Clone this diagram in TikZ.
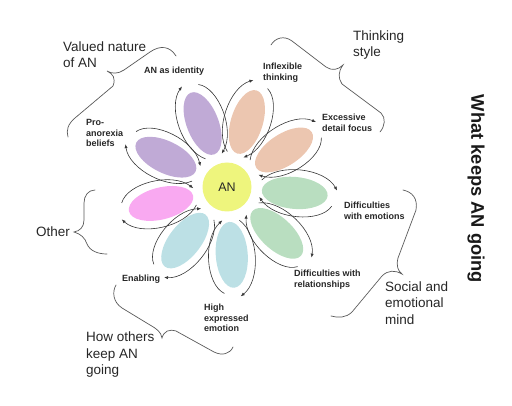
\documentclass[tikz,border=0pt]{standalone}
\usepackage{fontspec}
\setmainfont{Liberation Sans}
\usetikzlibrary{arrows.meta,shapes.geometric}
\definecolor{purp}{RGB}{192,170,214}
\definecolor{peach}{RGB}{236,198,176}
\definecolor{green}{RGB}{185,222,192}
\definecolor{blue}{RGB}{188,224,229}
\definecolor{pink}{RGB}{249,169,241}
\definecolor{yel}{RGB}{238,245,125}
\definecolor{ink}{RGB}{55,55,55}
\begin{document}
\begin{tikzpicture}[x=1pt,y=-1pt,
  cat/.style={font=\fontsize{13.5}{16.5}\selectfont, align=left, inner sep=0pt, anchor=west, text=black!85},
  lab/.style={font=\bfseries\fontsize{9}{10.7}\selectfont, align=left, inner sep=0pt, anchor=west, text=black!85},
  petal/.style={ellipse, minimum width=66pt, minimum height=32pt, inner sep=0pt, transform shape},
  flow/.style={draw=ink, line width=0.6pt, -{Latex[length=4pt,width=3.2pt]}},
  bracepath/.style={draw=black!65, line width=0.7pt, line cap=round}]

\useasboundingbox (0,0) rectangle (512,406);

\foreach \i/\ang/\col in {1/111/purp,2/73/peach,3/33/peach,4/-5/green,5/-43/green,6/-86/blue,7/-128/blue,8/-166/pink,9/154/purp}{
  \begin{scope}[shift={(227,187)},rotate=\ang]
    \node[petal,fill=\col] (p\i) at (68,0) {};
    \coordinate (os\i) at (34,-10);
    \coordinate (oe\i) at (110,-6);
    \coordinate (is\i) at (106,10);
    \coordinate (ie\i) at (33,7);
    \draw[flow] (os\i) .. controls (50,-29) and (96,-27) .. (oe\i);
    \draw[flow] (is\i) .. controls (96,28) and (50,28) .. (ie\i);
  \end{scope}
}

\node[circle, fill=yel, minimum size=49pt, inner sep=0pt, font=\fontsize{12.5}{14}\selectfont, text=black!85] (an) at (227,187) {AN};

% braces
\draw[bracepath] (176,56) .. controls (170,46) and (160,45) .. (150,52) -- (124,70) .. controls (118,74) and (112,74) .. (107,71)
  .. controls (113,74) and (116,78) .. (113,86) -- (75,118) .. controls (68,124) and (66,130) .. (68,137);
\draw[bracepath] (271,45) .. controls (275,38) and (284,35) .. (292,41) -- (326,67) .. controls (332,71) and (338,70) .. (343,65)
  .. controls (338,72) and (338,78) .. (342,84) -- (381,113) .. controls (386,118) and (385,126) .. (380,132);
\draw[bracepath] (403,190) .. controls (412,192) and (418,198) .. (416,210) -- (398,258) .. controls (396,266) and (398,271) .. (402,274)
  .. controls (395,270) and (388,270) .. (382,276) -- (352,312) .. controls (346,318) and (338,318) .. (331,316);
\draw[bracepath] (95,190) .. controls (88,190) and (84,196) .. (84,203) -- (84,220) .. controls (84,227) and (80,231) .. (74,232)
  .. controls (81,234) and (85,238) .. (87,244) .. controls (90,251) and (98,254) .. (107,254);
\draw[bracepath] (116,285) .. controls (112,292) and (113,302) .. (122,308) -- (150,325) .. controls (157,329) and (161,332) .. (162,338)
  .. controls (164,331) and (169,329) .. (176,331) -- (214,352) .. controls (222,356) and (230,354) .. (233,347);

% category labels
\node[cat] (valued) at (63,54.5) {Valued nature\\of AN};
\node[cat] (thinking) at (353,45) {Thinking\\style};
\node[cat] (social) at (385,303) {Social and\\emotional\\mind};
\node[cat] (other) at (36,232) {Other};
\node[cat] (others) at (86,355) {How others\\keep AN\\going};

% petal labels
\node[lab] (l1) at (144,71) {AN as identity};
\node[lab] (l9) at (86,133) {Pro-\\anorexia\\beliefs};
\node[lab] (l2) at (263,72.5) {Inflexible\\thinking};
\node[lab] (l3) at (322,123) {Excessive\\detail focus};
\node[lab] (l4) at (344,211) {Difficulties\\with emotions};
\node[lab] (l5) at (294,280) {Difficulties with\\relationships};
\node[lab] (l7) at (122,279) {Enabling};
\node[lab] (l6) at (204,318) {High\\expressed\\emotion};

\node[font=\bfseries\fontsize{18.3}{20}\selectfont, rotate=-90, inner sep=0pt, text=black!90] (title) at (476,189) {What keeps AN going};
\end{tikzpicture}
\end{document}
